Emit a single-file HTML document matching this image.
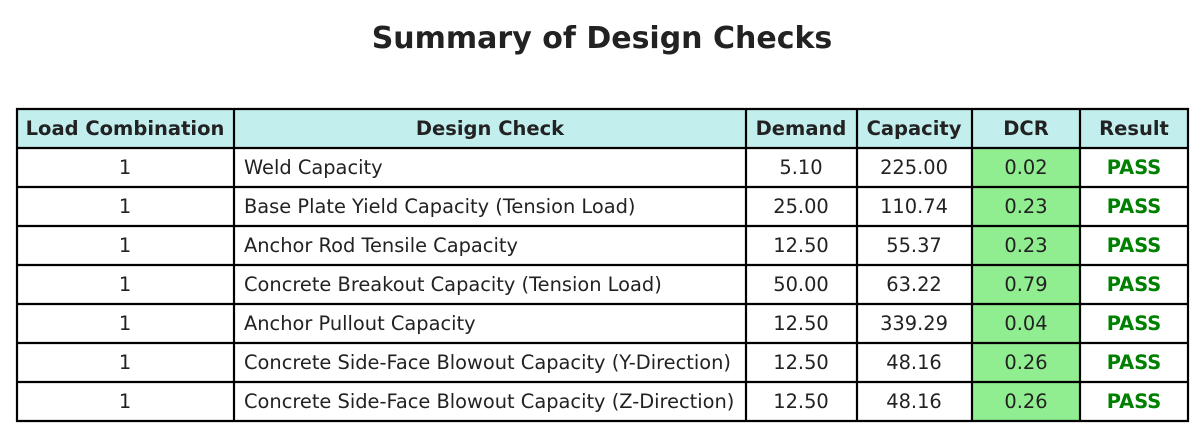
<!DOCTYPE html>
<html><head><style>
html,body{margin:0;padding:0;background:#fff;}
svg{display:block;font-family:"DejaVu Sans","Liberation Sans",sans-serif;}
</style></head><body>
<svg width="1200" height="432" viewBox="0 0 1200 432">
<text x="602" y="48" text-anchor="middle" font-size="30" font-weight="bold" fill="#222">Summary of Design Checks</text>
<rect x="17" y="109" width="1172" height="39" fill="#c2eeee"/>
<rect x="972" y="148" width="108" height="273" fill="#90ee90"/>
<g stroke="#000" stroke-width="2.2">
<line x1="16" y1="109" x2="1189" y2="109"/>
<line x1="16" y1="148" x2="1189" y2="148"/>
<line x1="16" y1="187" x2="1189" y2="187"/>
<line x1="16" y1="226" x2="1189" y2="226"/>
<line x1="16" y1="265" x2="1189" y2="265"/>
<line x1="16" y1="304" x2="1189" y2="304"/>
<line x1="16" y1="343" x2="1189" y2="343"/>
<line x1="16" y1="382" x2="1189" y2="382"/>
<line x1="16" y1="421" x2="1189" y2="421"/>
<line x1="17" y1="108" x2="17" y2="422"/>
<line x1="234" y1="108" x2="234" y2="422"/>
<line x1="746" y1="108" x2="746" y2="422"/>
<line x1="857" y1="108" x2="857" y2="422"/>
<line x1="972" y1="108" x2="972" y2="422"/>
<line x1="1080" y1="108" x2="1080" y2="422"/>
<line x1="1188" y1="108" x2="1188" y2="422"/>
</g>
<g font-size="19.5" font-weight="bold" fill="#222" text-anchor="middle">
<text x="125" y="135">Load Combination</text>
<text x="490" y="135">Design Check</text>
<text x="801" y="135">Demand</text>
<text x="914" y="135">Capacity</text>
<text x="1026" y="135">DCR</text>
<text x="1134" y="135">Result</text>
</g>
<g font-size="19.4" fill="#222">
<g text-anchor="middle">
<text x="125" y="174">1</text><text x="125" y="213">1</text><text x="125" y="252">1</text><text x="125" y="291">1</text><text x="125" y="330">1</text><text x="125" y="369">1</text><text x="125" y="408">1</text>
<text x="801" y="174">5.10</text><text x="801" y="213">25.00</text><text x="801" y="252">12.50</text><text x="801" y="291">50.00</text><text x="801" y="330">12.50</text><text x="801" y="369">12.50</text><text x="801" y="408">12.50</text>
<text x="914" y="174">225.00</text><text x="914" y="213">110.74</text><text x="914" y="252">55.37</text><text x="914" y="291">63.22</text><text x="914" y="330">339.29</text><text x="914" y="369">48.16</text><text x="914" y="408">48.16</text>
<text x="1026" y="174">0.02</text><text x="1026" y="213">0.23</text><text x="1026" y="252">0.23</text><text x="1026" y="291">0.79</text><text x="1026" y="330">0.04</text><text x="1026" y="369">0.26</text><text x="1026" y="408">0.26</text>
</g>
<text x="244" y="174">Weld Capacity</text>
<text x="244" y="213">Base Plate Yield Capacity (Tension Load)</text>
<text x="244" y="252">Anchor Rod Tensile Capacity</text>
<text x="244" y="291">Concrete Breakout Capacity (Tension Load)</text>
<text x="244" y="330">Anchor Pullout Capacity</text>
<text x="244" y="369">Concrete Side-Face Blowout Capacity (Y-Direction)</text>
<text x="244" y="408">Concrete Side-Face Blowout Capacity (Z-Direction)</text>
</g>
<g font-size="19.4" font-weight="bold" fill="#008000" text-anchor="middle">
<text x="1134" y="174">PASS</text><text x="1134" y="213">PASS</text><text x="1134" y="252">PASS</text><text x="1134" y="291">PASS</text><text x="1134" y="330">PASS</text><text x="1134" y="369">PASS</text><text x="1134" y="408">PASS</text>
</g>
</svg>
</body></html>
